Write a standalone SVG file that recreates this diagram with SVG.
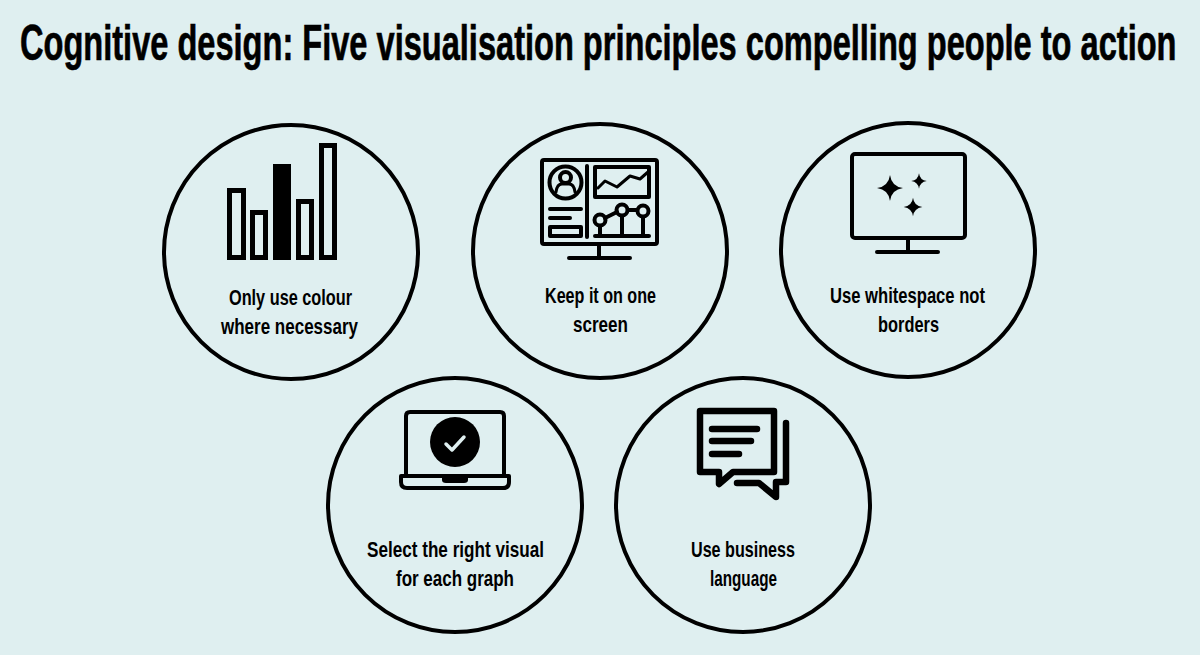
<svg xmlns="http://www.w3.org/2000/svg" width="1200" height="655" viewBox="0 0 1200 655">
<style>
text{font-family:"Liberation Sans Narrow","Liberation Sans",Arial,sans-serif;font-weight:700;fill:#000;text-anchor:start}
.t{font-size:50px;stroke:#000;stroke-width:.7}
.l{font-size:22px}
.c{fill:none;stroke:#000;stroke-width:4}
.i{fill:none;stroke:#000;stroke-width:4;stroke-linecap:round;stroke-linejoin:round}
.b{stroke-width:6.500}
.s{fill:#000;stroke:none}
</style>
<defs>
<path id="star" d="M0-13Q1.5-1.500 13 0Q1.500 1.500 0 13Q-1.500 1.500-13 0Q-1.500-1.500 0-13Z"/>
</defs>
<rect width="1200" height="655" fill="#dfeff0"/>
<text id="title" class="t" transform="translate(20,60) scale(.6516,1)">Cognitive design: Five visualisation principles compelling people to action</text>
<g id="node-colour">
<circle class="c" cx="291" cy="252" r="127"/>
<g fill="none" stroke="#000" stroke-width="5">
<rect x="229.500" y="190.500" width="14" height="67"/>
<rect x="252.500" y="212.500" width="13" height="45"/>
<rect x="298.500" y="201.500" width="13" height="56"/>
<rect x="321.500" y="145.500" width="13" height="112"/>
</g>
<rect class="s" x="273" y="164" width="18" height="96"/>
<text class="l" x="229" y="305" textLength="123" lengthAdjust="spacingAndGlyphs">Only use colour</text>
<text class="l" x="221" y="334" textLength="137" lengthAdjust="spacingAndGlyphs">where necessary</text>
</g>
<g id="node-screen">
<circle class="c" cx="600" cy="251" r="127"/>
<g class="i">
<rect x="542" y="160" width="115" height="84" rx="2"/>
<path d="M587 166V237"/>
<circle cx="565.500" cy="182.500" r="16"/>
<circle cx="565.500" cy="177.500" r="5.500"/>
<path d="M556 192Q557 184 562 184H569Q574 184 575 192" stroke-width="3"/>
<path d="M550 209H581M550 218H570"/>
<rect x="550" y="227" width="31" height="9"/>
<rect x="595" y="167" width="54" height="30"/>
<path d="M598 188L605 181L617 187L630 176L640 179L648 172" stroke-width="3"/>
<circle cx="600" cy="220" r="5.500"/>
<circle cx="622" cy="210" r="5.500"/>
<circle cx="643" cy="211" r="5.500"/>
<path d="M605 218L617 212M628 210H637M600 226V236M622 216V236M643 217V236M595 236H649"/>
<path d="M599 245V258M569 258H630"/>
</g>
<text class="l" x="545" y="303" textLength="111" lengthAdjust="spacingAndGlyphs">Keep it on one</text>
<text class="l" x="573" y="332" textLength="55" lengthAdjust="spacingAndGlyphs">screen</text>
</g>
<g id="node-whitespace">
<circle class="c" cx="908" cy="250" r="127"/>
<g class="i">
<rect x="852" y="154" width="113" height="84" rx="3"/>
<path d="M908 239V252M877 252H938"/>
</g>
<use href="#star" transform="translate(890,188)"/>
<use href="#star" transform="translate(919,181) scale(.6)"/>
<use href="#star" transform="translate(913,207) scale(.72)"/>
<text class="l" x="830" y="303" textLength="155" lengthAdjust="spacingAndGlyphs">Use whitespace not</text>
<text class="l" x="878" y="332" textLength="61" lengthAdjust="spacingAndGlyphs">borders</text>
</g>
<g id="node-visual">
<circle class="c" cx="455" cy="505" r="127"/>
<g class="i">
<path d="M406 476V416Q406 412 410 412H500Q504 412 504 416V476"/>
<path d="M401 476H509V482Q509 488 503 488H407Q401 488 401 482Z"/>
</g>
<path class="s" d="M442 477H468V480Q468 483 464 483H446Q442 483 442 480Z"/>
<circle class="s" cx="455" cy="442" r="25"/>
<path d="M446 444L452 450L464 437" fill="none" stroke="#dfeff0" stroke-width="3.500" stroke-linecap="round" stroke-linejoin="round"/>
<text class="l" x="367" y="557" textLength="177" lengthAdjust="spacingAndGlyphs">Select the right visual</text>
<text class="l" x="396" y="586" textLength="118" lengthAdjust="spacingAndGlyphs">for each graph</text>
</g>
<g id="node-language">
<circle class="c" cx="743" cy="505" r="127"/>
<g class="i b">
<path d="M700 411H774V472H733L719 484V472H700Z"/>
<path d="M712 429H757M712 441H751M712 454H739"/>
<path d="M786 423V482H776V497L759 483H737"/>
</g>
<text class="l" x="691" y="557" textLength="104" lengthAdjust="spacingAndGlyphs">Use business</text>
<text class="l" x="710" y="586" textLength="67" lengthAdjust="spacingAndGlyphs">language</text>
</g>
</svg>
